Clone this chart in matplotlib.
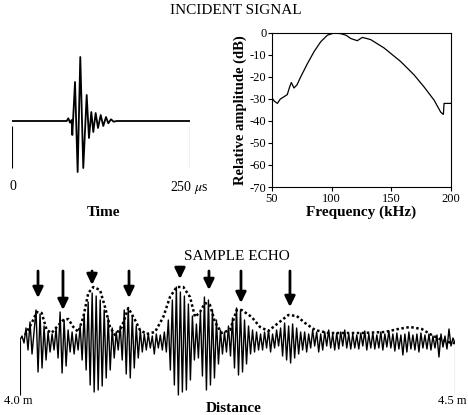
import numpy as np
import matplotlib
matplotlib.use("Agg")
import matplotlib.pyplot as plt

plt.rcParams['font.family'] = ['Liberation Serif', 'DejaVu Serif']
plt.rcParams['mathtext.fontset'] = 'stix'
plt.rcParams['axes.unicode_minus'] = False

# incident pulse (time in us, amplitude in arbitrary units)
t_pulse = [0, 60.4, 76.8, 79.1, 81.5, 83.8, 84.7, 88.5, 92.2, 95.9, 100.1, 104.9,
           108.1, 111.4, 114.2, 117.5, 120.8, 124.6, 128.2, 132.0, 135.3, 139.0,
           142.8, 147.0, 250]
a_pulse = [0, 0, 0, 2.7, -1.7, 1, -14, 39, -51, 64, -47, 26,
           -17, 9, -11, 8, -7, 6, -5, 4, -2.3, 1.7,
           -0.7, 0, 0]

# spectrum of the incident signal
freq = [50, 52, 54.5, 57, 60, 62.8, 64.5, 66.2, 68.4, 71, 74, 79.6, 85.2, 90.8,
        96.4, 102, 107.6, 112, 116, 121.5, 125.7, 132.7, 143.9, 157.9, 169,
        177.4, 185.8, 191.4, 193.6, 194.2, 200]
rel_db = [-29.5, -31, -32, -30, -29, -28, -25, -22.5, -25, -23.5, -20, -14, -8.5, -4,
          -1, 0, -0.3, -1, -2.5, -3.5, -2, -3, -6.8, -13, -19,
          -24.5, -30.5, -36, -37, -32, -32]

# sample echo, uniformly sampled between 4.0 m and 4.5 m
echo = [0, 4, -3,
        12, -10, 18, -14, 8,
        30, -32, 26, -28, 14, -20,
        8, -12, 6, -10, 12,
        -18, 28, -33, 20, -26, 10,
        -12, 8, -14, 6, -10, 14,
        -20, 26, -30, 38,
        -45, 47, -52, 44, -50, 40, -46, 30, -38,
        22, -30, 12, -18, 8,
        -10, 14, -20,
        30, -34, 32, -38, 24, -28,
        14, -18, 10, -12, 6, -10,
        6, -8, 4, -14, 6, -8, 5, -10, 8, -12,
        20, -30, 40, -45, 53, -55, 48, -52, 44, -50, 36, -40, 24,
        -20, 16, -18,
        28, -36, 43, -50, 40, -45, 30, -38, 20, -24,
        10, -14, 8, -12, 14, -16,
        22, -28, 32, -35, 30, -32, 20, -24, 14,
        -14, 10, -12, 8, -10, 6,
        -10, 8, -8, 10, -12, 6, -8, 10, -6, 12,
        -16, 17, -20, 14, -23, 16, -18, 12, -14, 8,
        -10, 8, -12, 6, -8, 10, -6, 8, -12, 6, -10, 8, -6, 10, -8, 6, -10, 7, -9, 8,
        -6, 10, -8, 6, -9,
        6, -8, 5, -9, 7, -6, 9, -10, 6, -8,
        7, -9, 5, -8, 8, -10, 6, -7, 9, -8,
        6, -11, 7, -9, 5, -15, 6, -12, 8, -9,
        5, -10, 6, -12, 7, -8, 5, -9, 6, -10,
        4, -8, 5, -17, 6, -7, 4, -9, 11, -6, 2, -3]

# envelope of the echo (dotted)
env_x = [4.0058, 4.0135, 4.0192, 4.0249, 4.0307, 4.0364, 4.0422, 4.0498, 4.0555, 4.0613,
         4.0670, 4.0728, 4.0785, 4.0843, 4.0920, 4.0977, 4.1035, 4.1092, 4.1169, 4.1245,
         4.1322, 4.1379, 4.1456, 4.1552, 4.1647, 4.1724, 4.1801, 4.1877, 4.1954, 4.2012,
         4.2069, 4.2126, 4.2184, 4.2241, 4.2318, 4.2414, 4.2491, 4.2548, 4.2663, 4.2759,
         4.2854, 4.2969, 4.3084, 4.3181, 4.3276, 4.3391, 4.3544, 4.3774, 4.3928, 4.4195,
         4.4348, 4.4483, 4.4617, 4.4732, 4.4847, 4.4962, 4.5]
env_y = [5, 17, 28, 27, 10, 7, 13, 20, 21, 13,
         8, 23, 47, 53, 50, 33, 13, 5, 13, 32,
         20, 10, 6, 8, 23, 43, 53, 53, 43, 23,
         28, 37, 35, 18, 7, 10, 30, 30, 23, 13,
         9, 17, 25, 24, 17, 10, 7, 7, 7, 8,
         11, 13, 11, 5, 0, -3, -3]

# arrows marking echoes: position, top, tip
arr_x = [4.0207, 4.0494, 4.0828, 4.1253, 4.1839, 4.2172, 4.2540, 4.3103]
arr_top = [69, 69, 69, 69, 68, 69, 69, 69]
arr_tip = [42, 30, 55, 42, 61, 50, 37, 33]

W, H = 468, 415


def px_rect(x0, y0, x1, y1):
    return [x0 / W, 1 - y1 / H, (x1 - x0) / W, (y1 - y0) / H]


fig = plt.figure(figsize=(W / 100, H / 100), dpi=100)

# top left: incident pulse in time
ax1 = fig.add_axes(px_rect(12, 50, 190, 175))
ax1.plot(t_pulse, a_pulse, color='k', lw=1.3)
ax1.vlines([0, 250], -5, -47, color='k', lw=0.8)
ax1.set_xlim(0, 250)
ax1.set_ylim(-54, 71)
ax1.axis('off')
ax1.text(1.5, -66, '0', ha='center', va='center', fontsize=10)
ax1.text(222, -66, r'250 $\mu$s', ha='left', va='center', fontsize=10)
ax1.text(129, -92, 'Time', ha='center', va='center', fontsize=11, fontweight='bold')

# top right: spectrum
ax2 = fig.add_axes(px_rect(272, 33, 451, 187))
ax2.plot(freq, rel_db, color='k', lw=0.9)
ax2.set_xlim(50, 200)
ax2.set_ylim(-70, 0)
ax2.set_xticks([50, 100, 150, 200])
ax2.set_yticks(range(-70, 1, 10))
ax2.tick_params(direction='out', length=3, width=0.8, labelsize=9, pad=1)
for s in ax2.spines.values():
    s.set_linewidth(0.8)
ax2.set_xlabel('Frequency (kHz)', fontsize=11, fontweight='bold', labelpad=1)
ax2.set_ylabel('Relative amplitude (dB)', fontsize=10.5, fontweight='bold', labelpad=2)

fig.text(236 / W, 1 - 10 / H, 'INCIDENT SIGNAL', ha='center', va='center', fontsize=11)

# bottom: sample echo
ax3 = fig.add_axes(px_rect(20, 260, 455, 410))
dist = np.linspace(4.0, 4.5, len(echo))
ax3.plot(dist, echo, color='k', lw=1.0)
ax3.plot(env_x, env_y, color='k', lw=1.8, linestyle=(0, (1, 1)))
for x, top, tip in zip(arr_x, arr_top, arr_tip):
    ax3.annotate('', xy=(x, tip), xytext=(x, top),
                 arrowprops=dict(arrowstyle='-|>,head_length=0.45,head_width=0.22',
                                 lw=2, color='k', mutation_scale=14,
                                 shrinkA=0, shrinkB=0))
ax3.vlines(4.0, 0, -55, color='k', lw=0.8)
ax3.vlines(4.5, -3, -55, color='k', lw=0.8)
ax3.set_xlim(4.0, 4.5)
ax3.set_ylim(-70, 80)
ax3.axis('off')
ax3.text(3.998, -61, '4.0 m', ha='center', va='center', fontsize=9)
ax3.text(4.4966, -61, '4.5 m', ha='center', va='center', fontsize=9)
ax3.text(4.246, -68, 'Distance', ha='center', va='center', fontsize=11, fontweight='bold')

fig.text(237 / W, 1 - 257 / H, 'SAMPLE ECHO', ha='center', va='center', fontsize=11)

fig.savefig('out.png', dpi=100)
